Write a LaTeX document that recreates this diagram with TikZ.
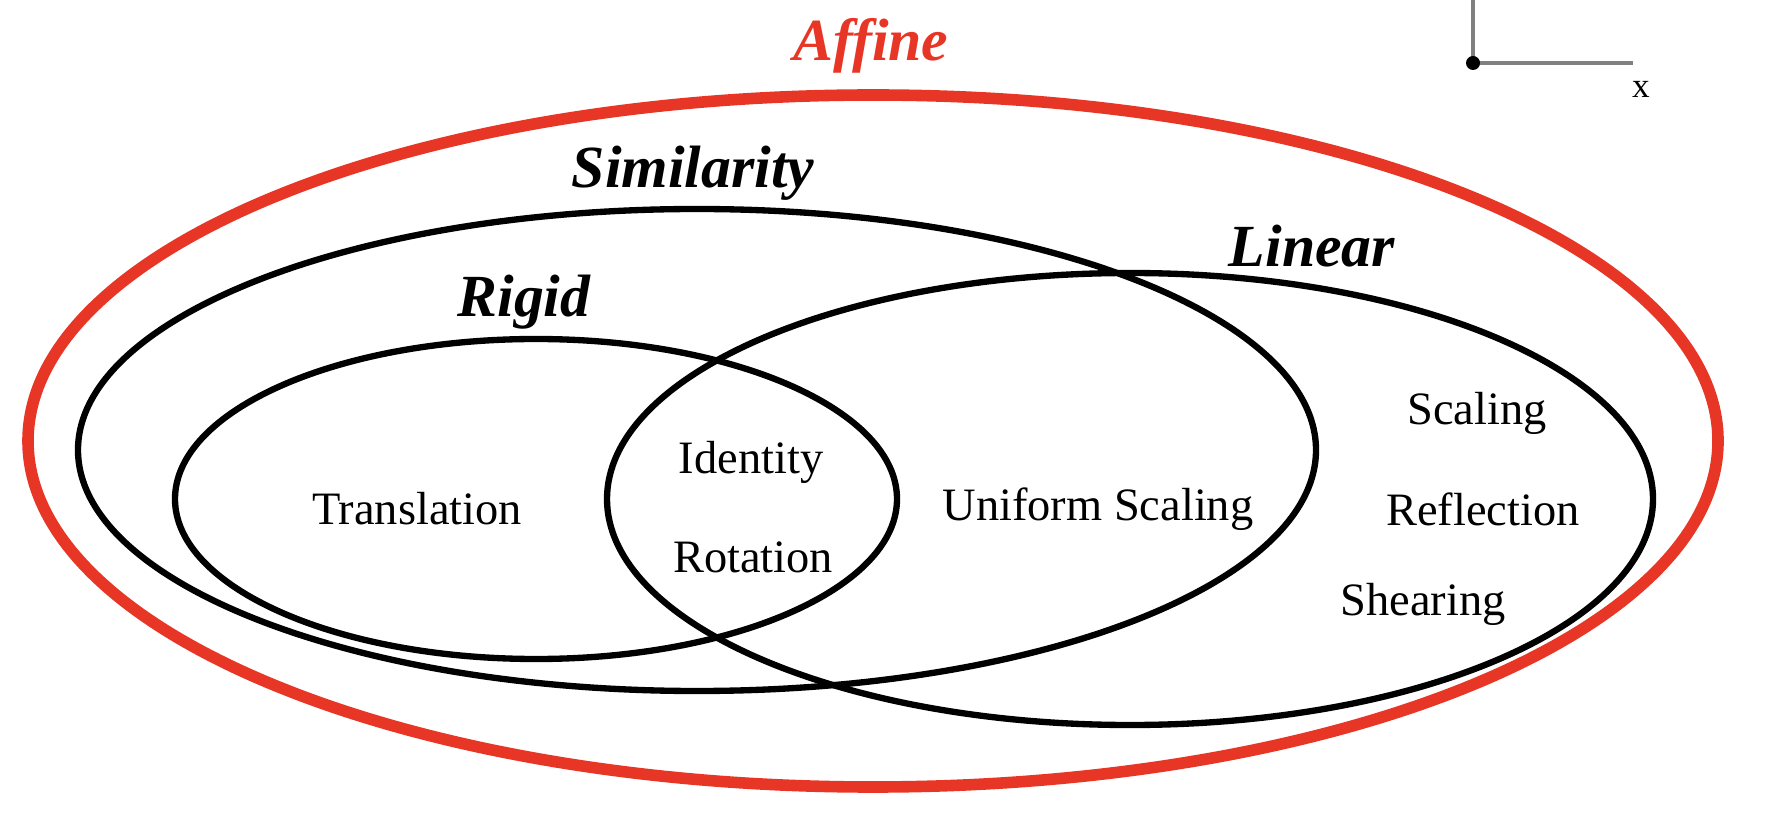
\documentclass[tikz,border=0pt]{standalone}
\usepackage{fontspec}
\setmainfont{Liberation Serif}
\begin{document}
\begin{tikzpicture}[x=0.01cm,y=0.01cm,
  set/.style={line width=1.8pt},
  title/.style={font=\fontsize{17}{20}\selectfont\bfseries\itshape},
  item/.style={font=\fontsize{13.2}{16}\selectfont}]
\useasboundingbox (0,0) rectangle (1788,830);
\definecolor{affred}{RGB}{232,54,38}
\draw[affred,line width=3.3pt] (873,389) ellipse [x radius=845,y radius=346];
\draw[set] (697,380) ellipse [x radius=619,y radius=241];
\draw[set] (536,331) ellipse [x radius=361,y radius=160];
\draw[set] (1130,331) ellipse [x radius=523,y radius=226];
\node[title,text=affred] (affine) at (871,784) {Affine};
\node[title] (sim) at (693,657) {Similarity};
\node[title] (lin) at (1312,584) {Linear};
\node[title] (rig) at (524,528) {Rigid};
\node[item] (tr) at (417,321) {Translation};
\node[item] (id) at (751,368) {Identity};
\node[item] (rot) at (753,273) {Rotation};
\node[item] (us) at (1098,321) {Uniform Scaling};
\node[item] (sc) at (1477,417) {Scaling};
\node[item] (re) at (1483,321) {Reflection};
\node[item] (sh) at (1423,226) {Shearing};
\coordinate (o) at (1473,767);
\coordinate (xe) at (1633,767);
\coordinate (ye) at (1473,830);
\draw[gray,line width=0.9pt] (ye) -- (o) -- (xe);
\fill (o) circle (7);
\node[font=\fontsize{10}{12}\selectfont] (xl) at (1641,741) {x};
\end{tikzpicture}
\end{document}
